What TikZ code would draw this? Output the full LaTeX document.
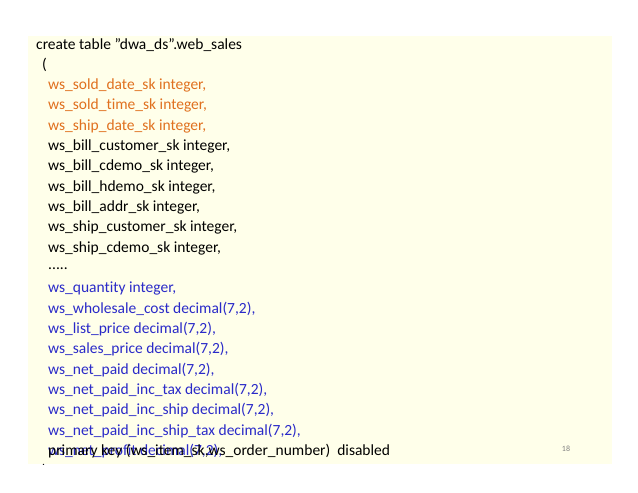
\documentclass[tikz,border=0pt]{standalone}
\usepackage{fontspec}
\setmainfont[Ligatures={TeX,NoCommon}]{Carlito}
\definecolor{bgy}{HTML}{FFFFEA}
\definecolor{org}{HTML}{E0701E}
\definecolor{blu}{HTML}{2A2AC8}
\begin{document}
\begin{tikzpicture}[x=1pt,y=-1pt,
 ln/.style={anchor=west,inner sep=0pt,font=\fontsize{15.5}{18}\selectfont},
 o/.style={ln,text=org}, b/.style={ln,text=blu}]
\useasboundingbox (0,0) rectangle (638,493);
\fill[bgy] (28,36) rectangle (612,464);
\def\Y#1{45+20.3*#1}
\begin{scope}
\clip (28,36) rectangle (612,464);
\node[ln] (l0) at (36,45) {create table \char34 dwa\_ds\char34 .web\_sales};
\node[ln] (l1) at (42,{\Y{1}}) {(};
\node[o] (l2) at (48,{\Y{2}}) {ws\_sold\_date\_sk integer,};
\node[o] (l3) at (48,{\Y{3}}) {ws\_sold\_time\_sk integer,};
\node[o] (l4) at (48,{\Y{4}}) {ws\_ship\_date\_sk integer,};
\node[ln] (l5) at (48,{\Y{5}}) {ws\_bill\_customer\_sk integer,};
\node[ln] (l6) at (48,{\Y{6}}) {ws\_bill\_cdemo\_sk integer,};
\node[ln] (l7) at (48,{\Y{7}}) {ws\_bill\_hdemo\_sk integer,};
\node[ln] (l8) at (48,{\Y{8}}) {ws\_bill\_addr\_sk integer,};
\node[ln] (l9) at (48,{\Y{9}}) {ws\_ship\_customer\_sk integer,};
\node[ln] (l10) at (48,{\Y{10}}) {ws\_ship\_cdemo\_sk integer,};
\node[ln] (l11) at (48,{\Y{11}}) {.....};
\node[b] (l12) at (48,{\Y{12}}) {ws\_quantity integer,};
\node[b] (l13) at (48,{\Y{13}}) {ws\_wholesale\_cost decimal(7,2),};
\node[b] (l14) at (48,{\Y{14}}) {ws\_list\_price decimal(7,2),};
\node[b] (l15) at (48,{\Y{15}}) {ws\_sales\_price decimal(7,2),};
\node[b] (l16) at (48,{\Y{16}}) {ws\_net\_paid decimal(7,2),};
\node[b] (l17) at (48,{\Y{17}}) {ws\_net\_paid\_inc\_tax decimal(7,2),};
\node[b] (l18) at (48,{\Y{18}}) {ws\_net\_paid\_inc\_ship decimal(7,2),};
\node[b] (l19) at (48,{\Y{19}}) {ws\_net\_paid\_inc\_ship\_tax decimal(7,2),};
\node[b] (l20) at (48,{\Y{19}+20.3}) {ws\_net\_profit decimal(7,2),};
\node[ln] (l21) at (48,{\Y{20}+0.1}) {primary key (ws\_item\_sk,ws\_order\_number)\ \ disabled};
\node[ln] (l22) at (42,{\Y{21}}) {)};
\end{scope}
\node[anchor=center,inner sep=0pt,text=gray,font=\fontsize{8}{9}\selectfont] (pg) at (566,449) {18};
\end{tikzpicture}
\end{document}
